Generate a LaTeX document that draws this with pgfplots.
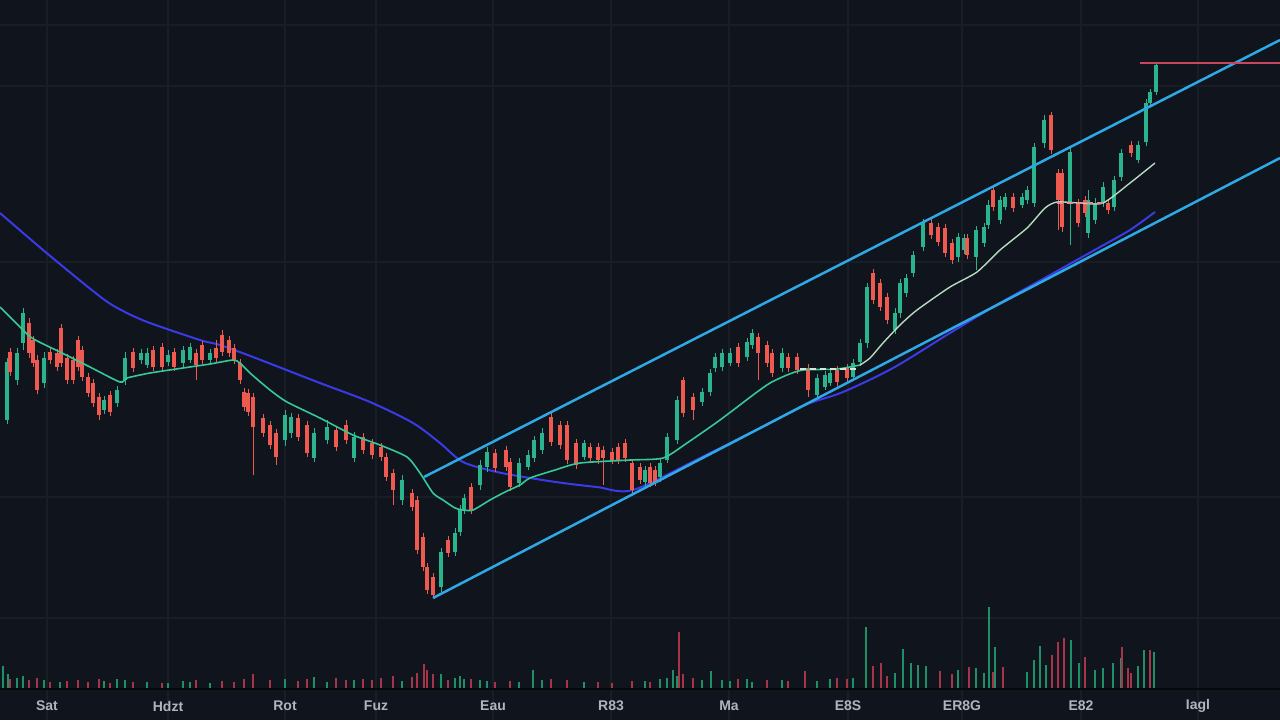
\documentclass[border=0pt]{standalone}
\usepackage{pgfplots}
\usepackage{pgfplotstable}
\usepackage{fontspec}
\setmainfont{Liberation Sans}
\pgfplotsset{compat=1.18}

\definecolor{bg}{HTML}{10141C}
\definecolor{gridc}{HTML}{191D26}
\definecolor{upc}{HTML}{2AB38C}
\definecolor{dnc}{HTML}{EF5A50}
\definecolor{volup}{HTML}{1F8F66}
\definecolor{voldn}{HTML}{A8344A}
\definecolor{mafast}{HTML}{35C99A}
\definecolor{mapale}{HTML}{B5DCC0}
\definecolor{maslow}{HTML}{3A3AE6}
\definecolor{chan}{HTML}{2FA9E6}
\definecolor{resist}{HTML}{C8465E}
\definecolor{lab}{HTML}{B0B4BC}

% candles in pixel rows (smaller = higher price)
\pgfplotstableread{
x o h l c
7 420 358 424 362
17 380 348 385 353
23 343 308 350 313
44 383 352 388 358
104 410 396 414 400
117 403 386 407 390
125 380 352 385 358
141 360 349 364 353
147 365 348 368 353
168 362 350 366 355
183 363 346 367 350
190 360 343 363 347
210 360 349 363 353
285 440 410 446 415
291 433 413 438 417
314 458 428 462 433
327 440 420 444 427
354 458 432 462 437
402 500 475 505 480
441 587 548 592 552
455 552 528 556 533
460 532 505 536 510
464 510 494 514 498
480 485 460 490 465
487 467 447 472 452
519 483 458 487 463
528 467 450 470 455
534 458 436 462 440
542 450 428 454 433
584 457 440 460 443
645 482 466 486 470
660 477 459 482 463
667 460 433 463 437
677 440 396 444 400
702 402 388 406 392
710 392 369 396 373
715 368 353 372 357
722 367 349 371 353
730 363 348 366 353
747 357 338 361 342
752 345 329 349 333
782 368 348 372 353
817 395 374 398 378
825 387 371 390 375
830 383 369 386 373
853 377 359 380 363
860 362 339 366 343
867 343 283 348 287
895 330 308 334 313
900 313 279 318 283
906 293 274 297 278
913 273 251 277 255
923 247 219 251 223
958 257 233 262 237
964 250 234 254 238
976 257 226 270 230
984 243 223 247 227
988 225 200 229 205
1000 220 196 224 200
1005 207 193 210 197
1022 205 193 208 197
1027 200 186 204 190
1034 203 143 207 147
1044 143 115 148 120
1070 203 148 245 152
1088 233 190 238 200
1095 220 198 224 203
1103 203 182 207 187
1114 207 176 211 180
1121 177 149 181 153
1138 160 141 163 145
1146 142 99 146 103
1150 103 89 106 92
1156 92 62 95 65
}\upcandles

\pgfplotstableread{
x o h l c
10 352 348 376 372
29 323 318 358 353
33 340 336 367 363
37 360 355 394 390
50 352 348 364 360
57 353 349 371 367
61 328 324 367 363
67 358 354 384 380
73 360 356 384 380
78 340 336 371 367
82 350 346 381 377
88 377 373 397 393
93 383 379 407 403
99 397 393 420 415
110 395 391 416 412
133 352 348 372 368
153 350 346 371 367
162 347 343 371 367
174 352 348 371 367
196 353 349 380 365
202 345 341 364 360
216 348 340 362 358
222 335 330 356 352
229 340 336 357 353
234 348 344 364 360
240 363 359 384 380
244 392 388 411 407
248 393 389 416 412
253 397 393 475 427
263 418 414 437 433
270 425 421 449 445
276 433 429 465 457
298 418 414 441 437
307 425 421 457 453
336 430 426 451 447
346 425 420 444 440
363 437 433 454 450
372 443 439 459 455
381 447 443 461 457
386 457 453 481 477
393 473 469 505 490
412 493 489 511 507
417 500 496 554 550
423 537 533 571 567
427 567 563 594 590
433 577 573 598 595
448 540 536 557 553
471 487 483 514 510
495 453 449 472 468
506 450 446 471 467
510 462 458 491 487
551 417 413 446 442
560 425 421 449 445
567 425 421 464 460
576 443 439 469 465
590 447 443 462 458
598 447 443 464 460
603 450 446 485 458
612 452 448 464 460
618 447 443 464 460
625 443 439 462 458
632 463 459 494 490
640 467 463 484 480
650 467 463 487 483
655 470 466 486 482
683 380 377 417 413
693 397 393 420 410
738 347 343 367 363
758 337 333 380 353
767 345 341 367 363
772 353 349 377 373
788 357 353 372 368
797 357 353 374 370
808 368 364 397 390
837 370 366 386 382
847 368 364 382 378
873 273 269 304 300
880 283 279 311 307
887 297 293 324 320
931 223 219 239 235
938 227 223 246 242
945 228 224 257 253
952 243 239 264 260
967 238 234 259 255
993 190 186 211 207
1013 197 193 212 208
1051 115 112 154 150
1058 173 169 230 200
1062 173 169 232 227
1078 203 199 227 223
1085 200 196 217 213
1108 203 199 214 210
1131 145 141 157 153
}\dncandles

% volume, bar height in pixels above the base row
\pgfplotstableread{
x v
3 22
8 14
17 10
23 12
44 8
60 6
104 7
117 9
125 8
147 6
168 5
183 7
190 6
210 5
285 9
314 11
327 6
354 8
402 7
441 14
455 10
460 12
464 9
480 8
487 7
519 6
533 18
542 8
584 6
645 7
660 9
667 10
673 18
677 12
702 8
711 17
722 8
730 7
747 9
752 6
782 8
817 7
830 9
853 10
866 61
895 15
903 39
911 25
918 23
926 22
958 18
976 20
984 15
989 81
995 41
1027 16
1034 28
1040 42
1046 23
1071 48
1079 25
1095 18
1103 20
1113 25
1121 30
1138 22
1144 38
1154 36
}\volgreen

\pgfplotstableread{
x v
10 9
29 8
37 10
50 6
67 7
78 8
88 6
99 9
110 5
133 6
162 5
196 8
222 7
234 6
244 9
253 14
270 8
298 7
307 9
336 10
346 8
363 9
372 8
381 10
393 12
412 11
417 15
424 24
427 18
433 14
448 8
471 9
495 6
510 7
551 9
567 8
598 6
612 5
632 7
650 6
679 56
683 14
693 10
738 9
767 8
788 7
805 17
837 10
847 9
873 22
881 25
887 12
940 17
952 14
969 21
993 16
1003 21
1052 33
1058 46
1064 50
1085 31
1122 41
1128 20
1131 15
1150 38
}\volred

\pgfplotsset{
  candle/.style 2 args={draw=none, mark=none,
    error bars/.cd, y dir=both, y explicit, error mark=none,
    error bar style={line width=#1, draw=#2}},
}
\tikzset{datelab/.style={text=lab, font=\fontsize{7}{8}\selectfont\bfseries, anchor=center}}

\begin{document}
\begin{tikzpicture}
\begin{axis}[
  name=ax,
  scale only axis,
  width=640pt, height=360pt,
  xmin=0, xmax=1280, ymin=0, ymax=720,
  y dir=reverse,
  axis background/.style={fill=bg},
  axis line style={draw=none},
  major tick length=0pt,
  xtick={47,168,285,376,493,611,729,848,962,1081,1198},
  ytick={25,86,262,497,618},
  xticklabels={}, yticklabels={},
  xmajorgrids, ymajorgrids,
  major grid style={draw=gridc, line width=0.7pt},
  clip=true,
]
% volume base
\addplot[draw=black!60!bg, line width=0.6pt] coordinates {(0,689) (1280,689)};
% volume bars
\addplot[candle={1pt}{volup}]
  table[x=x, y expr={688-\thisrow{v}/2}, y error expr={\thisrow{v}/2}] {\volgreen};
\addplot[candle={1pt}{voldn}]
  table[x=x, y expr={688-\thisrow{v}/2}, y error expr={\thisrow{v}/2}] {\volred};

% slow average
\addplot[maslow, line width=1pt, smooth, tension=0.5] coordinates {
(0,213) (49,255) (102,298) (125,312) (150,323) (200,340) (220,345) (253,357)
(320,383) (370,402) (413,423) (440,443) (463,462) (497,472) (530,478)
(563,483) (597,487) (633,490) (700,458) (760,428) (805,405) (843,392)
(893,368) (950,333) (1000,303) (1050,275) (1100,247) (1130,230) (1155,212)};

% wicks
\addplot[candle={0.5pt}{upc}]
  table[x=x, y expr={(\thisrow{h}+\thisrow{l})/2}, y error expr={(\thisrow{l}-\thisrow{h})/2}] {\upcandles};
\addplot[candle={0.5pt}{dnc}]
  table[x=x, y expr={(\thisrow{h}+\thisrow{l})/2}, y error expr={(\thisrow{l}-\thisrow{h})/2}] {\dncandles};
% bodies
\addplot[candle={2.2pt}{upc}]
  table[x=x, y expr={(\thisrow{o}+\thisrow{c})/2}, y error expr={abs(\thisrow{o}-\thisrow{c})/2}] {\upcandles};
\addplot[candle={2.2pt}{dnc}]
  table[x=x, y expr={(\thisrow{o}+\thisrow{c})/2}, y error expr={abs(\thisrow{o}-\thisrow{c})/2}] {\dncandles};

% fast average
\addplot[mafast, line width=0.8pt, smooth, tension=0.4] coordinates {
(0,307) (15,322) (32,338) (60,352) (90,367) (120,382) (127,378) (150,373)
(183,368) (210,364) (233,360) (240,363) (250,373) (270,390) (287,402)
(320,418) (353,435) (380,445) (407,457) (420,473) (433,493) (443,500)
(455,508) (463,510) (473,510) (490,500) (505,492) (520,485) (530,478)
(555,470) (580,463) (630,460) (663,458) (687,443) (720,420) (753,395)
(770,383) (787,375) (803,370) (837,369) (860,365)};
\addplot[mapale, line width=0.7pt, smooth, tension=0.4] coordinates {
(860,365) (870,358) (883,343) (900,325) (917,310) (950,287) (977,272)
(1000,250) (1027,228) (1045,208) (1057,202) (1080,203) (1103,203)
(1130,183) (1155,163)};
\addplot[mapale!60!white, line width=0.6pt, densely dashed] coordinates {(800,369) (857,369)};
\addplot[resist!60!white, line width=0.6pt, densely dashed] coordinates {(1057,203) (1103,203)};

% channel
\addplot[chan, line width=1.25pt] coordinates {(424,477) (1280,40)};
\addplot[chan, line width=1.25pt] coordinates {(433,598) (1280,158)};
% resistance
\addplot[resist, line width=0.7pt] coordinates {(1140,63) (1280,63)};

% date labels
\node[datelab] at (axis cs:47,706) {Sat};
\node[datelab] at (axis cs:168,706) {Hdzt};
\node[datelab] at (axis cs:285,706) {Rot};
\node[datelab] at (axis cs:376,706) {Fuz};
\node[datelab] at (axis cs:493,706) {Eau};
\node[datelab] at (axis cs:611,706) {R83};
\node[datelab] at (axis cs:729,706) {Ma};
\node[datelab] at (axis cs:848,706) {E8S};
\node[datelab] at (axis cs:962,706) {ER8G};
\node[datelab] at (axis cs:1081,706) {E82};
\node[datelab] at (axis cs:1198,706) {Iagl};
\end{axis}
\pgfresetboundingbox
\useasboundingbox (ax.south west) rectangle (ax.north east);
\end{tikzpicture}
\end{document}
